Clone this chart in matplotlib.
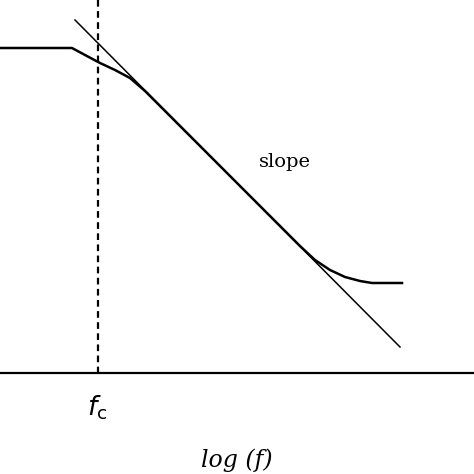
import matplotlib
matplotlib.use("Agg")
import matplotlib.pyplot as plt

# response curve (pixel-like coords)
curve_x = [0, 72, 85, 100, 115, 130, 145, 200, 260, 300, 315, 330, 345, 360, 372, 402]
curve_y = [48, 48, 55, 63, 70, 78, 91, 146, 206, 246, 260, 270, 277, 281, 283, 283]
# asymptote line
asym_x = [75, 400]
asym_y = [20, 347]
fc_x = 98

fig = plt.figure(figsize=(4.74, 4.74), dpi=100)
ax = fig.add_axes([0, 0, 1, 1])
ax.set_xlim(0, 474)
ax.set_ylim(474, 0)
ax.axis("off")

ax.plot(curve_x, curve_y, color="black", lw=1.8)
ax.plot(asym_x, asym_y, color="black", lw=1.1)
ax.plot([fc_x, fc_x], [0, 373], color="black", lw=1.6, ls=(0, (3, 2)))
ax.plot([0, 474], [373, 373], color="black", lw=1.6)

ax.text(285, 162, "slope", fontsize=14, family="DejaVu Serif", ha="center", va="center")
ax.text(97, 408, r"$f_{\rm c}$", fontsize=19, ha="center", va="center")
ax.text(237, 460, "log (f)", fontsize=17, family="DejaVu Serif", style="italic",
        ha="center", va="center")

fig.savefig("out.png", dpi=100)
